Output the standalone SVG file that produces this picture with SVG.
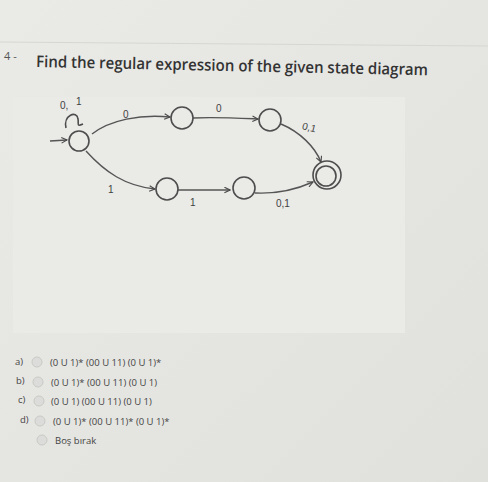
<svg xmlns="http://www.w3.org/2000/svg" width="488" height="482" viewBox="0 0 488 482">
<defs>
<linearGradient id="bg" x1="0" y1="0" x2="1" y2="1">
<stop offset="0" stop-color="#eaeae7"/>
<stop offset="1" stop-color="#e0e0dc"/>
</linearGradient>
<marker id="ah" viewBox="0 0 10 10" refX="9" refY="5" markerWidth="7" markerHeight="7" orient="auto" markerUnits="userSpaceOnUse">
<path d="M1 1 L9 5 L1 9" fill="none" stroke="#4a4a4a" stroke-width="1.6"/>
</marker>
<style>
.st{fill:none;stroke:#4d4d4d;stroke-width:1.6}
.ed{fill:none;stroke:#555;stroke-width:1.4;marker-end:url(#ah)}
.lb{font-family:"Liberation Sans",Arial,sans-serif;font-size:10px;fill:#3f3f3f}
.op{font-family:"Open Sans","Liberation Sans",sans-serif;font-size:9.5px;fill:#444}
.rd{fill:#dcdcda;stroke:#c9c9c6;stroke-width:1}
</style>
</defs>
<rect width="488" height="482" fill="url(#bg)"/>
<rect x="13" y="97" width="392" height="236" fill="#eaeae7"/>
<line x1="0" y1="42" x2="488" y2="46" stroke="#d6d6d2" stroke-width="1"/>
<text x="4" y="60" font-family="Open Sans, Liberation Sans, sans-serif" font-size="11" fill="#555">4 -</text>
<text x="36" y="67" font-family="Open Sans, Liberation Sans, sans-serif" font-size="16" font-weight="600" fill="#333" textLength="392" lengthAdjust="spacingAndGlyphs" transform="rotate(1.2 36 67)">Find the regular expression of the given state diagram</text>

<g id="connectors">
<line class="ed" x1="50" y1="141" x2="67" y2="140"/>
<path class="st" d="M66 128 C63 115 77 110 78 119 C79 124 76 127 83 124"/>
<path class="ed" d="M92 134 C110 120 140 114 170 117"/>
<path class="ed" d="M193 118 C215 117 235 118 258 119"/>
<path class="ed" d="M281 124 C300 132 315 147 321 162"/>
<path class="ed" d="M86 151 C105 172 125 186 155 189"/>
<path class="ed" d="M178 190 L230 190"/>
<path class="ed" d="M255 193 C275 194 295 190 313 182"/>
</g>
<g id="labels">
<text class="lb" x="60" y="109">0,</text>
<text class="lb" x="76" y="105">1</text>
<text class="lb" x="123" y="118">0</text>
<text class="lb" x="216" y="112">0</text>
<text class="lb" x="302" y="130" transform="rotate(15 306 128)">0,1</text>
<text class="lb" x="108" y="193">1</text>
<text class="lb" x="190" y="206">1</text>
<text class="lb" x="276" y="207">0,1</text>
</g>
<g id="q0"><circle class="st" cx="79" cy="141" r="10"/></g>
<g id="q1"><circle class="st" cx="182" cy="118" r="11"/></g>
<g id="q2"><circle class="st" cx="270" cy="120" r="11"/></g>
<g id="q3"><circle class="st" cx="167" cy="189" r="11"/></g>
<g id="q4"><circle class="st" cx="244" cy="188" r="11"/></g>
<g id="qf"><circle class="st" cx="327" cy="175" r="14"/><circle class="st" cx="326" cy="176" r="10"/></g>

<g id="options">
<text class="op" x="15" y="365">a)</text>
<circle class="rd" cx="37" cy="362" r="5"/>
<text class="op" x="50" y="366">(0 U 1)* (00 U 11) (0 U 1)*</text>
<text class="op" x="16" y="384">b)</text>
<circle class="rd" cx="38" cy="382" r="5"/>
<text class="op" x="51" y="386">(0 U 1)* (00 U 11) (0 U 1)</text>
<text class="op" x="18" y="403">c)</text>
<circle class="rd" cx="39" cy="401" r="5"/>
<text class="op" x="51" y="405">(0 U 1) (00 U 11) (0 U 1)</text>
<text class="op" x="20" y="423">d)</text>
<circle class="rd" cx="40" cy="421" r="5"/>
<text class="op" x="53" y="425">(0 U 1)* (00 U 11)* (0 U 1)*</text>
<circle class="rd" cx="42" cy="440" r="5"/>
<text class="op" x="55" y="444">Boş bırak</text>
</g>
</svg>
